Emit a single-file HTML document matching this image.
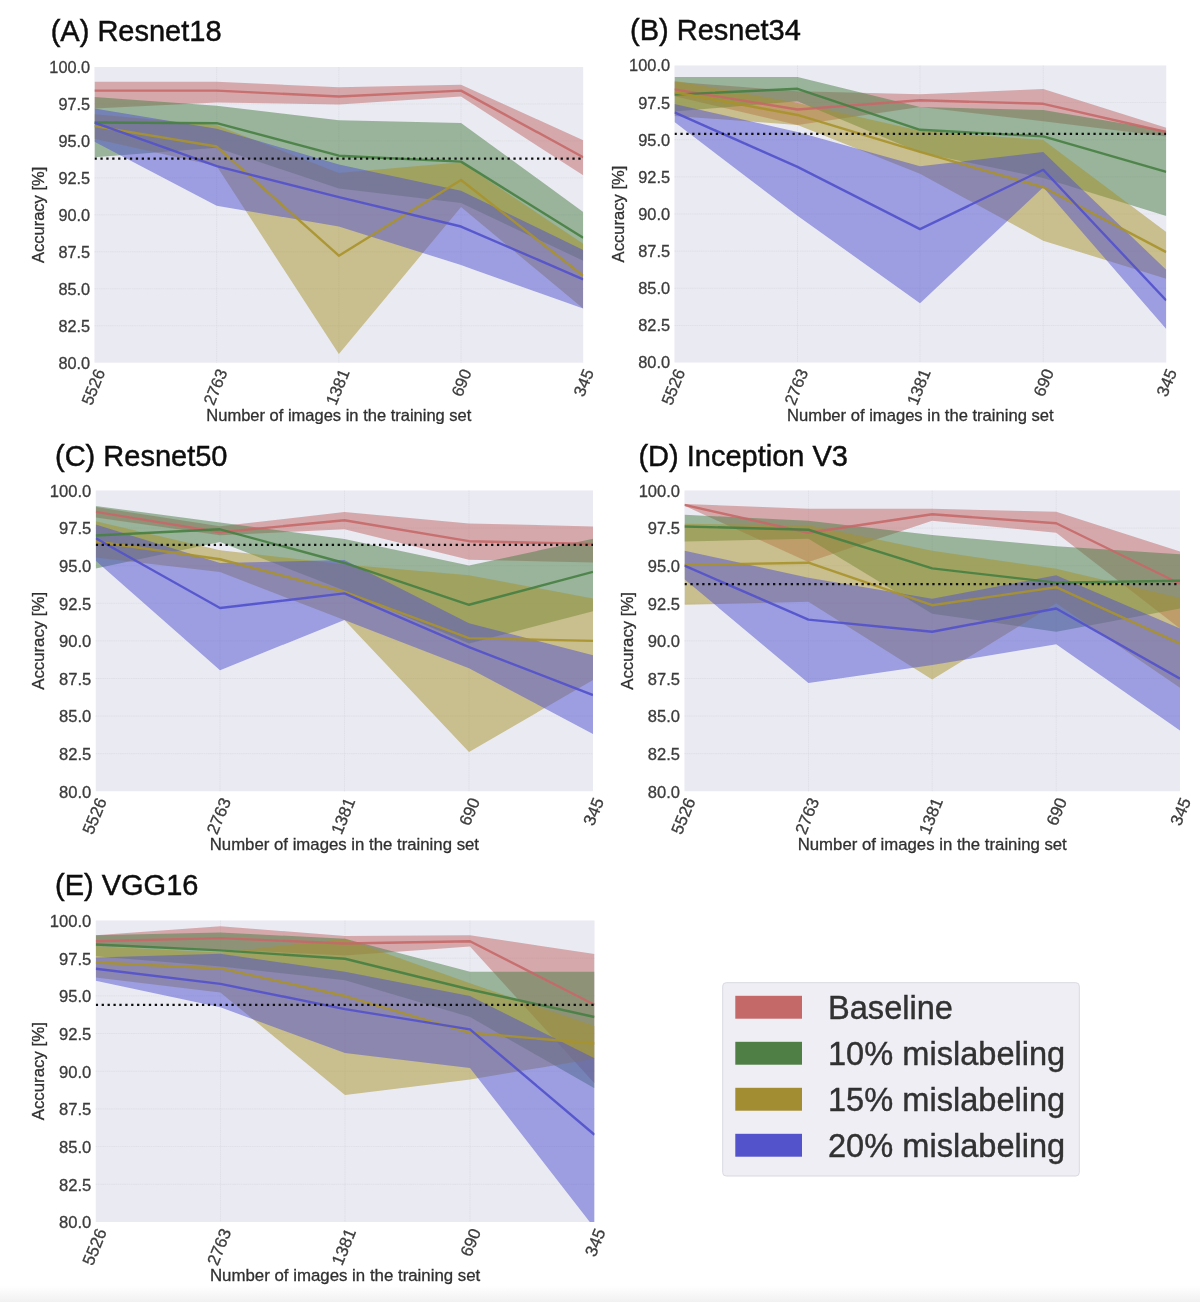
<!DOCTYPE html>
<html lang="en"><head><meta charset="utf-8"><title>Accuracy vs training set size</title>
<style>
html,body{margin:0;padding:0;background:#fff;}
body{width:1200px;height:1302px;overflow:hidden;}
svg{display:block;font-family:"Liberation Sans",sans-serif;}
.tk{font-size:16.3px;fill:#3c3c3c;stroke:#3c3c3c;stroke-width:0.3px;}
.lb{font-size:16.5px;fill:#303030;stroke:#303030;stroke-width:0.3px;}
.tt{font-size:29px;fill:#0c0c0c;stroke:#0c0c0c;stroke-width:0.45px;}
.lg{font-size:32.6px;fill:#303030;stroke:#303030;stroke-width:0.4px;}
.grid{stroke:#d6d6de;stroke-width:0.7;stroke-dasharray:1.6 0.6;opacity:0.75}
</style></head><body>
<svg width="1200" height="1302" viewBox="0 0 1200 1302">
<defs><filter id="soft" x="-2%" y="-2%" width="104%" height="104%"><feGaussianBlur stdDeviation="0.6"/></filter><linearGradient id="botg" x1="0" y1="0" x2="0" y2="1"><stop offset="0" stop-color="#ffffff"/><stop offset="1" stop-color="#f1f1f1"/></linearGradient></defs>
<rect x="0" y="0" width="1200" height="1302" fill="#ffffff"/>
<rect x="0" y="1286" width="1200" height="16" fill="url(#botg)"/>
<g filter="url(#soft)">
<g>
<text class="tt" x="50.7" y="40.8">(A) Resnet18</text>
<rect x="94.5" y="67" width="488.7" height="295.7" fill="#eaeaf2"/>
<line class="grid" x1="216.68" y1="67" x2="216.68" y2="362.7"/>
<line class="grid" x1="338.85" y1="67" x2="338.85" y2="362.7"/>
<line class="grid" x1="461.03" y1="67" x2="461.03" y2="362.7"/>
<line class="grid" x1="94.5" y1="103.96" x2="583.2" y2="103.96"/>
<line class="grid" x1="94.5" y1="140.93" x2="583.2" y2="140.93"/>
<line class="grid" x1="94.5" y1="177.89" x2="583.2" y2="177.89"/>
<line class="grid" x1="94.5" y1="214.85" x2="583.2" y2="214.85"/>
<line class="grid" x1="94.5" y1="251.81" x2="583.2" y2="251.81"/>
<line class="grid" x1="94.5" y1="288.77" x2="583.2" y2="288.77"/>
<line class="grid" x1="94.5" y1="325.74" x2="583.2" y2="325.74"/>
<clipPath id="cp0"><rect x="94.5" y="67" width="488.7" height="295.7"/></clipPath>
<g clip-path="url(#cp0)">
<polygon fill="#bf6865" fill-opacity="0.5" points="94.5,81.78 216.68,81.78 338.85,87.26 461.03,84.74 583.2,140.19 583.2,175.37 461.03,96.57 338.85,104.55 216.68,102.48 94.5,108.4"/>
<polygon fill="#487d44" fill-opacity="0.5" points="94.5,97.01 216.68,105.74 338.85,120.23 461.03,122.89 583.2,211.89 583.2,260.83 461.03,203.02 338.85,188.53 216.68,147.73 94.5,157.19"/>
<polygon fill="#a89228" fill-opacity="0.5" points="94.5,114.31 216.68,125.25 338.85,173.01 461.03,162.36 583.2,243.68 583.2,308.59 461.03,207.01 338.85,354.12 216.68,166.06 94.5,138.86"/>
<polygon fill="#4f4fcf" fill-opacity="0.5" points="94.5,108.4 216.68,128.65 338.85,164.58 461.03,190.75 583.2,249.89 583.2,308.59 461.03,265.12 338.85,226.38 216.68,205.83 94.5,141.66"/>
<polyline fill="none" stroke="#c66868" stroke-width="2.4" stroke-opacity="0.9" stroke-linejoin="round" points="94.5,90.66 216.68,90.66 338.85,96.57 461.03,90.66 583.2,157.19"/>
<polyline fill="none" stroke="#477f42" stroke-width="2.4" stroke-opacity="0.9" stroke-linejoin="round" points="94.5,122.44 216.68,123.18 338.85,155.71 461.03,161.62 583.2,237.77"/>
<polyline fill="none" stroke="#a8922c" stroke-width="2.4" stroke-opacity="0.9" stroke-linejoin="round" points="94.5,126.14 216.68,146.54 338.85,255.66 461.03,179.96 583.2,275.76"/>
<polyline fill="none" stroke="#5252cc" stroke-width="2.4" stroke-opacity="0.9" stroke-linejoin="round" points="94.5,122.59 216.68,166.06 338.85,197.11 461.03,226.53 583.2,279.31"/>
<line x1="94.5" y1="158.67" x2="583.2" y2="158.67" stroke="#111" stroke-width="2.2" stroke-dasharray="2.3 3.6"/>
</g>
<text class="tk" style="font-size:16.3px" text-anchor="end" x="90.1" y="72.95">100.0</text>
<text class="tk" style="font-size:16.3px" text-anchor="end" x="90.1" y="109.91">97.5</text>
<text class="tk" style="font-size:16.3px" text-anchor="end" x="90.1" y="146.88">95.0</text>
<text class="tk" style="font-size:16.3px" text-anchor="end" x="90.1" y="183.84">92.5</text>
<text class="tk" style="font-size:16.3px" text-anchor="end" x="90.1" y="220.8">90.0</text>
<text class="tk" style="font-size:16.3px" text-anchor="end" x="90.1" y="257.76">87.5</text>
<text class="tk" style="font-size:16.3px" text-anchor="end" x="90.1" y="294.72">85.0</text>
<text class="tk" style="font-size:16.3px" text-anchor="end" x="90.1" y="331.69">82.5</text>
<text class="tk" style="font-size:16.3px" text-anchor="end" x="90.1" y="368.65">80.0</text>
<text class="lb" style="font-size:16.5px" text-anchor="middle" transform="translate(44 214.85) rotate(-90)">Accuracy [%]</text>
<text class="tk" style="font-size:16.63px" text-anchor="end" transform="translate(105.5 372) rotate(-68)">5526</text>
<text class="tk" style="font-size:16.63px" text-anchor="end" transform="translate(227.68 372) rotate(-68)">2763</text>
<text class="tk" style="font-size:16.63px" text-anchor="end" transform="translate(349.85 372) rotate(-68)">1381</text>
<text class="tk" style="font-size:16.63px" text-anchor="end" transform="translate(472.03 372) rotate(-68)">690</text>
<text class="tk" style="font-size:16.63px" text-anchor="end" transform="translate(594.2 372) rotate(-68)">345</text>
<text class="lb" style="font-size:16.5px" text-anchor="middle" x="338.85" y="420.5">Number of images in the training set</text>
</g>
<g>
<text class="tt" x="630" y="40.2">(B) Resnet34</text>
<rect x="674.5" y="65.5" width="491.75" height="297" fill="#eaeaf2"/>
<line class="grid" x1="797.5" y1="65.5" x2="797.5" y2="362.5"/>
<line class="grid" x1="920" y1="65.5" x2="920" y2="362.5"/>
<line class="grid" x1="1043.25" y1="65.5" x2="1043.25" y2="362.5"/>
<line class="grid" x1="674.5" y1="102.62" x2="1166.25" y2="102.62"/>
<line class="grid" x1="674.5" y1="139.75" x2="1166.25" y2="139.75"/>
<line class="grid" x1="674.5" y1="176.88" x2="1166.25" y2="176.88"/>
<line class="grid" x1="674.5" y1="214" x2="1166.25" y2="214"/>
<line class="grid" x1="674.5" y1="251.12" x2="1166.25" y2="251.12"/>
<line class="grid" x1="674.5" y1="288.25" x2="1166.25" y2="288.25"/>
<line class="grid" x1="674.5" y1="325.38" x2="1166.25" y2="325.38"/>
<clipPath id="cp1"><rect x="674.5" y="65.5" width="491.75" height="297"/></clipPath>
<g clip-path="url(#cp1)">
<polygon fill="#bf6865" fill-opacity="0.5" points="674.5,81.83 797.5,91.19 920,94.31 1043.25,88.96 1166.25,127.72 1166.25,136.48 1043.25,121.19 920,106.93 797.5,124.9 674.5,96.24"/>
<polygon fill="#487d44" fill-opacity="0.5" points="674.5,77.08 797.5,76.93 920,106.93 1043.25,110.05 1166.25,130.84 1166.25,215.93 1043.25,178.06 920,152.52 797.5,101.14 674.5,111.53"/>
<polygon fill="#a89228" fill-opacity="0.5" points="674.5,80.8 797.5,103.07 920,130.84 1043.25,140.05 1166.25,231.97 1166.25,278.75 1043.25,240.73 920,173.76 797.5,124.9 674.5,115.99"/>
<polygon fill="#4f4fcf" fill-opacity="0.5" points="674.5,104.11 797.5,131.88 920,166.18 1043.25,152.08 1166.25,269.84 1166.25,329.09 1043.25,187.27 920,303.25 797.5,215.78 674.5,122.08"/>
<polyline fill="none" stroke="#c66868" stroke-width="2.4" stroke-opacity="0.9" stroke-linejoin="round" points="674.5,89.41 797.5,109.46 920,100.25 1043.25,103.81 1166.25,132.03"/>
<polyline fill="none" stroke="#477f42" stroke-width="2.4" stroke-opacity="0.9" stroke-linejoin="round" points="674.5,94.61 797.5,88.81 920,129.8 1043.25,136.33 1166.25,171.83"/>
<polyline fill="none" stroke="#a8922c" stroke-width="2.4" stroke-opacity="0.9" stroke-linejoin="round" points="674.5,92.23 797.5,114.95 920,151.93 1043.25,187.27 1166.25,252.16"/>
<polyline fill="none" stroke="#5252cc" stroke-width="2.4" stroke-opacity="0.9" stroke-linejoin="round" points="674.5,112.43 797.5,166.93 920,229.15 1043.25,169.75 1166.25,300.43"/>
<line x1="674.5" y1="133.81" x2="1166.25" y2="133.81" stroke="#111" stroke-width="2.2" stroke-dasharray="2.3 3.6"/>
</g>
<text class="tk" style="font-size:16.4px" text-anchor="end" x="670.07" y="71.49">100.0</text>
<text class="tk" style="font-size:16.4px" text-anchor="end" x="670.07" y="108.61">97.5</text>
<text class="tk" style="font-size:16.4px" text-anchor="end" x="670.07" y="145.74">95.0</text>
<text class="tk" style="font-size:16.4px" text-anchor="end" x="670.07" y="182.86">92.5</text>
<text class="tk" style="font-size:16.4px" text-anchor="end" x="670.07" y="219.99">90.0</text>
<text class="tk" style="font-size:16.4px" text-anchor="end" x="670.07" y="257.11">87.5</text>
<text class="tk" style="font-size:16.4px" text-anchor="end" x="670.07" y="294.24">85.0</text>
<text class="tk" style="font-size:16.4px" text-anchor="end" x="670.07" y="331.36">82.5</text>
<text class="tk" style="font-size:16.4px" text-anchor="end" x="670.07" y="368.49">80.0</text>
<text class="lb" style="font-size:16.6px" text-anchor="middle" transform="translate(623.7 214) rotate(-90)">Accuracy [%]</text>
<text class="tk" style="font-size:16.73px" text-anchor="end" transform="translate(685.57 371.86) rotate(-68)">5526</text>
<text class="tk" style="font-size:16.73px" text-anchor="end" transform="translate(808.57 371.86) rotate(-68)">2763</text>
<text class="tk" style="font-size:16.73px" text-anchor="end" transform="translate(931.07 371.86) rotate(-68)">1381</text>
<text class="tk" style="font-size:16.73px" text-anchor="end" transform="translate(1054.32 371.86) rotate(-68)">690</text>
<text class="tk" style="font-size:16.73px" text-anchor="end" transform="translate(1177.32 371.86) rotate(-68)">345</text>
<text class="lb" style="font-size:16.6px" text-anchor="middle" x="920.38" y="420.65">Number of images in the training set</text>
</g>
<g>
<text class="tt" x="55" y="465.5">(C) Resnet50</text>
<rect x="95.75" y="490.5" width="497.25" height="300.75" fill="#eaeaf2"/>
<line class="grid" x1="220" y1="490.5" x2="220" y2="791.25"/>
<line class="grid" x1="344.4" y1="490.5" x2="344.4" y2="791.25"/>
<line class="grid" x1="469" y1="490.5" x2="469" y2="791.25"/>
<line class="grid" x1="95.75" y1="528.09" x2="593" y2="528.09"/>
<line class="grid" x1="95.75" y1="565.69" x2="593" y2="565.69"/>
<line class="grid" x1="95.75" y1="603.28" x2="593" y2="603.28"/>
<line class="grid" x1="95.75" y1="640.88" x2="593" y2="640.88"/>
<line class="grid" x1="95.75" y1="678.47" x2="593" y2="678.47"/>
<line class="grid" x1="95.75" y1="716.06" x2="593" y2="716.06"/>
<line class="grid" x1="95.75" y1="753.66" x2="593" y2="753.66"/>
<clipPath id="cp2"><rect x="95.75" y="490.5" width="497.25" height="300.75"/></clipPath>
<g clip-path="url(#cp2)">
<polygon fill="#bf6865" fill-opacity="0.5" points="95.75,507.04 220,526.29 344.4,512 469,523.43 593,526.44 593,562.53 469,559.82 344.4,529.3 220,535.31 95.75,517.57"/>
<polygon fill="#487d44" fill-opacity="0.5" points="95.75,505.99 220,522.53 344.4,538.92 469,565.54 593,538.77 593,611.25 469,643.43 344.4,590.5 220,542.08 95.75,568.54"/>
<polygon fill="#a89228" fill-opacity="0.5" points="95.75,521.33 220,550.2 344.4,564.48 469,575.16 593,598.47 593,679.97 469,752 344.4,619.97 220,572 95.75,557.57"/>
<polygon fill="#4f4fcf" fill-opacity="0.5" points="95.75,524.48 220,562.98 344.4,559.97 469,623.28 593,655.16 593,733.96 469,668.24 344.4,619.97 220,670.2 95.75,560.73"/>
<polyline fill="none" stroke="#c66868" stroke-width="2.4" stroke-opacity="0.9" stroke-linejoin="round" points="95.75,511.85 220,532.3 344.4,520.27 469,541.18 593,543.88"/>
<polyline fill="none" stroke="#477f42" stroke-width="2.4" stroke-opacity="0.9" stroke-linejoin="round" points="95.75,535.46 220,529.3 344.4,562.98 469,604.78 593,571.85"/>
<polyline fill="none" stroke="#a8922c" stroke-width="2.4" stroke-opacity="0.9" stroke-linejoin="round" points="95.75,541.48 220,559.22 344.4,591.85 469,638.17 593,640.88"/>
<polyline fill="none" stroke="#5252cc" stroke-width="2.4" stroke-opacity="0.9" stroke-linejoin="round" points="95.75,538.32 220,607.94 344.4,593.36 469,647.19 593,695.01"/>
<line x1="95.75" y1="544.79" x2="593" y2="544.79" stroke="#111" stroke-width="2.2" stroke-dasharray="2.3 3.6"/>
</g>
<text class="tk" style="font-size:16.58px" text-anchor="end" x="91.28" y="496.85">100.0</text>
<text class="tk" style="font-size:16.58px" text-anchor="end" x="91.28" y="534.44">97.5</text>
<text class="tk" style="font-size:16.58px" text-anchor="end" x="91.28" y="572.04">95.0</text>
<text class="tk" style="font-size:16.58px" text-anchor="end" x="91.28" y="609.63">92.5</text>
<text class="tk" style="font-size:16.58px" text-anchor="end" x="91.28" y="647.23">90.0</text>
<text class="tk" style="font-size:16.58px" text-anchor="end" x="91.28" y="684.82">87.5</text>
<text class="tk" style="font-size:16.58px" text-anchor="end" x="91.28" y="722.41">85.0</text>
<text class="tk" style="font-size:16.58px" text-anchor="end" x="91.28" y="760.01">82.5</text>
<text class="tk" style="font-size:16.58px" text-anchor="end" x="91.28" y="797.6">80.0</text>
<text class="lb" style="font-size:16.78px" text-anchor="middle" transform="translate(44.39 640.88) rotate(-90)">Accuracy [%]</text>
<text class="tk" style="font-size:16.91px" text-anchor="end" transform="translate(106.94 800.71) rotate(-68)">5526</text>
<text class="tk" style="font-size:16.91px" text-anchor="end" transform="translate(231.19 800.71) rotate(-68)">2763</text>
<text class="tk" style="font-size:16.91px" text-anchor="end" transform="translate(355.59 800.71) rotate(-68)">1381</text>
<text class="tk" style="font-size:16.91px" text-anchor="end" transform="translate(480.19 800.71) rotate(-68)">690</text>
<text class="tk" style="font-size:16.91px" text-anchor="end" transform="translate(604.19 800.71) rotate(-68)">345</text>
<text class="lb" style="font-size:16.78px" text-anchor="middle" x="344.38" y="850.03">Number of images in the training set</text>
</g>
<g>
<text class="tt" x="638.4" y="465.6">(D) Inception V3</text>
<rect x="684.5" y="490.5" width="495.5" height="300.75" fill="#eaeaf2"/>
<line class="grid" x1="808.4" y1="490.5" x2="808.4" y2="791.25"/>
<line class="grid" x1="932.2" y1="490.5" x2="932.2" y2="791.25"/>
<line class="grid" x1="1056.2" y1="490.5" x2="1056.2" y2="791.25"/>
<line class="grid" x1="684.5" y1="528.09" x2="1180" y2="528.09"/>
<line class="grid" x1="684.5" y1="565.69" x2="1180" y2="565.69"/>
<line class="grid" x1="684.5" y1="603.28" x2="1180" y2="603.28"/>
<line class="grid" x1="684.5" y1="640.88" x2="1180" y2="640.88"/>
<line class="grid" x1="684.5" y1="678.47" x2="1180" y2="678.47"/>
<line class="grid" x1="684.5" y1="716.06" x2="1180" y2="716.06"/>
<line class="grid" x1="684.5" y1="753.66" x2="1180" y2="753.66"/>
<clipPath id="cp3"><rect x="684.5" y="490.5" width="495.5" height="300.75"/></clipPath>
<g clip-path="url(#cp3)">
<polygon fill="#bf6865" fill-opacity="0.5" points="684.5,504.03 808.4,508.7 932.2,508.7 1056.2,511.7 1180,551.55 1180,628.54 1056.2,532.76 932.2,520.73 808.4,561.93 684.5,505.84"/>
<polygon fill="#487d44" fill-opacity="0.5" points="684.5,514.71 808.4,520.73 932.2,535.01 1056.2,546.29 1180,554.26 1180,608.54 1056.2,631.7 932.2,613.66 808.4,538.77 684.5,541.48"/>
<polygon fill="#a89228" fill-opacity="0.5" points="684.5,523.73 808.4,525.24 932.2,550.8 1056.2,568.7 1180,598.02 1180,687.64 1056.2,603.28 932.2,679.52 808.4,601.78 684.5,604.78"/>
<polygon fill="#4f4fcf" fill-opacity="0.5" points="684.5,550.65 808.4,577.72 932.2,598.77 1056.2,575.16 1180,628.54 1180,730.5 1056.2,644.33 932.2,664.93 808.4,682.98 684.5,579.22"/>
<polyline fill="none" stroke="#c66868" stroke-width="2.4" stroke-opacity="0.9" stroke-linejoin="round" points="684.5,504.94 808.4,532.76 932.2,514.26 1056.2,523.28 1180,583.73"/>
<polyline fill="none" stroke="#477f42" stroke-width="2.4" stroke-opacity="0.9" stroke-linejoin="round" points="684.5,526.44 808.4,529.75 932.2,568.39 1056.2,582.68 1180,580.73"/>
<polyline fill="none" stroke="#a8922c" stroke-width="2.4" stroke-opacity="0.9" stroke-linejoin="round" points="684.5,564.94 808.4,562.68 932.2,605.24 1056.2,587.19 1180,643.58"/>
<polyline fill="none" stroke="#5252cc" stroke-width="2.4" stroke-opacity="0.9" stroke-linejoin="round" points="684.5,565.69 808.4,619.67 932.2,631.7 1056.2,608.54 1180,678.62"/>
<line x1="684.5" y1="584.18" x2="1180" y2="584.18" stroke="#111" stroke-width="2.2" stroke-dasharray="2.3 3.6"/>
</g>
<text class="tk" style="font-size:16.54px" text-anchor="end" x="680.03" y="496.84">100.0</text>
<text class="tk" style="font-size:16.54px" text-anchor="end" x="680.03" y="534.43">97.5</text>
<text class="tk" style="font-size:16.54px" text-anchor="end" x="680.03" y="572.03">95.0</text>
<text class="tk" style="font-size:16.54px" text-anchor="end" x="680.03" y="609.62">92.5</text>
<text class="tk" style="font-size:16.54px" text-anchor="end" x="680.03" y="647.21">90.0</text>
<text class="tk" style="font-size:16.54px" text-anchor="end" x="680.03" y="684.81">87.5</text>
<text class="tk" style="font-size:16.54px" text-anchor="end" x="680.03" y="722.4">85.0</text>
<text class="tk" style="font-size:16.54px" text-anchor="end" x="680.03" y="760">82.5</text>
<text class="tk" style="font-size:16.54px" text-anchor="end" x="680.03" y="797.59">80.0</text>
<text class="lb" style="font-size:16.75px" text-anchor="middle" transform="translate(633.24 640.88) rotate(-90)">Accuracy [%]</text>
<text class="tk" style="font-size:16.88px" text-anchor="end" transform="translate(695.66 800.69) rotate(-68)">5526</text>
<text class="tk" style="font-size:16.88px" text-anchor="end" transform="translate(819.56 800.69) rotate(-68)">2763</text>
<text class="tk" style="font-size:16.88px" text-anchor="end" transform="translate(943.37 800.69) rotate(-68)">1381</text>
<text class="tk" style="font-size:16.88px" text-anchor="end" transform="translate(1067.37 800.69) rotate(-68)">690</text>
<text class="tk" style="font-size:16.88px" text-anchor="end" transform="translate(1191.16 800.69) rotate(-68)">345</text>
<text class="lb" style="font-size:16.75px" text-anchor="middle" x="932.25" y="849.92">Number of images in the training set</text>
</g>
<g>
<text class="tt" x="55" y="894.5">(E) VGG16</text>
<rect x="95.75" y="920.5" width="498.75" height="301.5" fill="#eaeaf2"/>
<line class="grid" x1="220.4" y1="920.5" x2="220.4" y2="1222"/>
<line class="grid" x1="345" y1="920.5" x2="345" y2="1222"/>
<line class="grid" x1="470" y1="920.5" x2="470" y2="1222"/>
<line class="grid" x1="95.75" y1="958.19" x2="594.5" y2="958.19"/>
<line class="grid" x1="95.75" y1="995.88" x2="594.5" y2="995.88"/>
<line class="grid" x1="95.75" y1="1033.56" x2="594.5" y2="1033.56"/>
<line class="grid" x1="95.75" y1="1071.25" x2="594.5" y2="1071.25"/>
<line class="grid" x1="95.75" y1="1108.94" x2="594.5" y2="1108.94"/>
<line class="grid" x1="95.75" y1="1146.62" x2="594.5" y2="1146.62"/>
<line class="grid" x1="95.75" y1="1184.31" x2="594.5" y2="1184.31"/>
<clipPath id="cp4"><rect x="95.75" y="920.5" width="498.75" height="301.5"/></clipPath>
<g clip-path="url(#cp4)">
<polygon fill="#bf6865" fill-opacity="0.5" points="95.75,935.27 220.4,926.23 345,936.03 470,935.27 594.5,953.97 594.5,1083.31 470,946.43 345,955.47 220.4,949.44 95.75,946.28"/>
<polygon fill="#487d44" fill-opacity="0.5" points="95.75,935.27 220.4,932.56 345,938.74 470,971.76 594.5,971.76 594.5,1088.28 470,1016.98 345,980.2 220.4,966.48 95.75,956.23"/>
<polygon fill="#a89228" fill-opacity="0.5" points="95.75,946.13 220.4,952.46 345,938.74 470,983.21 594.5,1026.03 594.5,1058.59 470,1079.54 345,1095.07 220.4,992.41 95.75,977.48"/>
<polygon fill="#4f4fcf" fill-opacity="0.5" points="95.75,957.43 220.4,953.67 345,971.76 470,996.03 594.5,1058.29 594.5,1228.03 470,1067.93 345,1053.01 220.4,1007.33 95.75,980.65"/>
<polyline fill="none" stroke="#c66868" stroke-width="2.4" stroke-opacity="0.9" stroke-linejoin="round" points="95.75,941.3 220.4,938.14 345,943.56 470,941.3 594.5,1004.77"/>
<polyline fill="none" stroke="#477f42" stroke-width="2.4" stroke-opacity="0.9" stroke-linejoin="round" points="95.75,944.47 220.4,950.35 345,958.79 470,989.54 594.5,1016.98"/>
<polyline fill="none" stroke="#a8922c" stroke-width="2.4" stroke-opacity="0.9" stroke-linejoin="round" points="95.75,962.56 220.4,968.44 345,996.03 470,1032.81 594.5,1043.51"/>
<polyline fill="none" stroke="#5252cc" stroke-width="2.4" stroke-opacity="0.9" stroke-linejoin="round" points="95.75,968.74 220.4,983.82 345,1009.14 470,1029.34 594.5,1134.72"/>
<line x1="95.75" y1="1004.92" x2="594.5" y2="1004.92" stroke="#111" stroke-width="2.2" stroke-dasharray="2.3 3.6"/>
</g>
<text class="tk" style="font-size:16.63px" text-anchor="end" x="91.26" y="926.87">100.0</text>
<text class="tk" style="font-size:16.63px" text-anchor="end" x="91.26" y="964.56">97.5</text>
<text class="tk" style="font-size:16.63px" text-anchor="end" x="91.26" y="1002.24">95.0</text>
<text class="tk" style="font-size:16.63px" text-anchor="end" x="91.26" y="1039.93">92.5</text>
<text class="tk" style="font-size:16.63px" text-anchor="end" x="91.26" y="1077.62">90.0</text>
<text class="tk" style="font-size:16.63px" text-anchor="end" x="91.26" y="1115.31">87.5</text>
<text class="tk" style="font-size:16.63px" text-anchor="end" x="91.26" y="1152.99">85.0</text>
<text class="tk" style="font-size:16.63px" text-anchor="end" x="91.26" y="1190.68">82.5</text>
<text class="tk" style="font-size:16.63px" text-anchor="end" x="91.26" y="1228.37">80.0</text>
<text class="lb" style="font-size:16.83px" text-anchor="middle" transform="translate(44.24 1071.25) rotate(-90)">Accuracy [%]</text>
<text class="tk" style="font-size:16.96px" text-anchor="end" transform="translate(106.97 1231.49) rotate(-68)">5526</text>
<text class="tk" style="font-size:16.96px" text-anchor="end" transform="translate(231.62 1231.49) rotate(-68)">2763</text>
<text class="tk" style="font-size:16.96px" text-anchor="end" transform="translate(356.22 1231.49) rotate(-68)">1381</text>
<text class="tk" style="font-size:16.96px" text-anchor="end" transform="translate(481.22 1231.49) rotate(-68)">690</text>
<text class="tk" style="font-size:16.96px" text-anchor="end" transform="translate(605.72 1231.49) rotate(-68)">345</text>
<text class="lb" style="font-size:16.83px" text-anchor="middle" x="345.12" y="1280.96">Number of images in the training set</text>
</g>
<g>
<rect x="722.7" y="982.7" width="356.6" height="193.3" rx="3.5" fill="#efeef5" stroke="#d9d9e2" stroke-width="1"/>
<rect x="735.3" y="995.8" width="66.7" height="22.9" fill="#c46868"/>
<text class="lg" x="828" y="1018.5">Baseline</text>
<rect x="735.3" y="1041.8" width="66.7" height="22.9" fill="#4f7f45"/>
<text class="lg" x="828" y="1064.5">10% mislabeling</text>
<rect x="735.3" y="1087.8" width="66.7" height="22.9" fill="#a38d33"/>
<text class="lg" x="828" y="1110.5">15% mislabeling</text>
<rect x="735.3" y="1133.8" width="66.7" height="22.9" fill="#5252cc"/>
<text class="lg" x="828" y="1156.5">20% mislabeling</text>
</g>
</g>
</svg></body></html>
